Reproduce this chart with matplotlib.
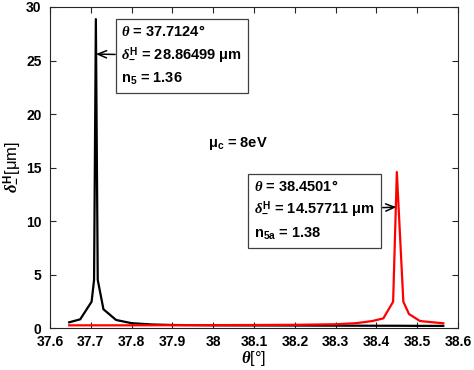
import matplotlib.pyplot as plt

plt.rcParams['font.family'] = 'Liberation Sans'
plt.rcParams['font.weight'] = 'bold'
plt.rcParams['mathtext.fontset'] = 'custom'
plt.rcParams['mathtext.rm'] = 'Liberation Sans:bold'
plt.rcParams['mathtext.bf'] = 'Liberation Sans:bold'
plt.rcParams['mathtext.it'] = 'Liberation Serif:italic'

# black curve (n5 = 1.36)
theta_black = [37.647, 37.674, 37.702, 37.708, 37.7124, 37.717, 37.731, 37.762,
               37.80, 37.85, 37.90, 38.0, 38.1, 38.2, 38.3, 38.4, 38.45, 38.5, 38.564]
delta_black = [0.53, 0.81, 2.46, 4.5, 28.86499, 4.5, 1.75, 0.75,
               0.45, 0.33, 0.28, 0.25, 0.24, 0.23, 0.22, 0.21, 0.21, 0.2, 0.2]

# red curve (n5a = 1.38)
theta_red = [37.647, 37.7, 37.8, 37.9, 38.0, 38.1, 38.2, 38.3, 38.35, 38.39, 38.417,
             38.441, 38.4501, 38.466, 38.48, 38.507, 38.564]
delta_red = [0.25, 0.25, 0.25, 0.26, 0.27, 0.28, 0.3, 0.35, 0.45, 0.65, 0.9,
             2.46, 14.57711, 2.46, 1.3, 0.65, 0.44]

fig = plt.figure(figsize=(4.74, 3.70), dpi=100)
ax = fig.add_axes([50/474, 1 - 328/370, 408/474, 321/370])

ax.plot(theta_black, delta_black, color='black', lw=1.6)
ax.plot(theta_red, delta_red, color='red', lw=1.6)

ax.set_xlim(37.6, 38.6)
ax.set_ylim(0, 30)
ax.set_xticks([37.6, 37.7, 37.8, 37.9, 38.0, 38.1, 38.2, 38.3, 38.4, 38.5, 38.6])
ax.set_xticklabels(['37.6', '37.7', '37.8', '37.9', '38', '38.1', '38.2', '38.3',
                    '38.4', '38.5', '38.6'])
ax.set_yticks([0, 5, 10, 15, 20, 25, 30])
ax.tick_params(direction='in', top=True, right=True, labelsize=10, length=4,
               color='#262626', width=0.8)
ax.tick_params(axis='y', pad=6)
ax.tick_params(axis='x', pad=5)
for s in ax.spines.values():
    s.set_color('#262626')
    s.set_linewidth(0.8)

ax.set_xlabel(r'$\mathit{\theta}$[°]', fontsize=12, labelpad=0)
ax.set_ylabel(r'$\mathit{\delta}_{-}^{\mathrm{H}}$[μm]', fontsize=12, labelpad=2)

box = dict(boxstyle='square,pad=0.4', fc='white', ec='#404040', lw=0.9)
arrow = dict(arrowstyle='->,head_length=0.6,head_width=0.25', color='black', lw=1.1,
             shrinkA=0, shrinkB=0)
ax.annotate('$\\mathit{\\theta}$ = 37.7124°\n'
            '$\\mathit{\\delta}_{-}^{\\mathrm{H}}$ = 28.86499 μm\n'
            '$\\mathrm{n}_{5}$ = 1.36',
            xy=(37.7124, 25.6), xytext=(37.775, 25.45), textcoords='data',
            fontsize=10.5, va='center', ha='left', linespacing=1.45, bbox=box,
            arrowprops=arrow)
ax.annotate('$\\mathit{\\theta}$ = 38.4501°\n'
            '$\\mathit{\\delta}_{-}^{\\mathrm{H}}$ = 14.57711 μm\n'
            '$\\mathrm{n}_{5\\mathrm{a}}$ = 1.38',
            xy=(38.449, 11.3), xytext=(38.1, 11.0), textcoords='data',
            fontsize=10.5, va='center', ha='left', linespacing=1.45, bbox=box,
            arrowprops=dict(arrow, shrinkA=1))

ax.text(38.06, 17.2, r'$\mathrm{\mu}_{\mathrm{c}}$ = 8eV', fontsize=10.5,
        ha='center', va='center')

fig.savefig('out.png', dpi=100)
